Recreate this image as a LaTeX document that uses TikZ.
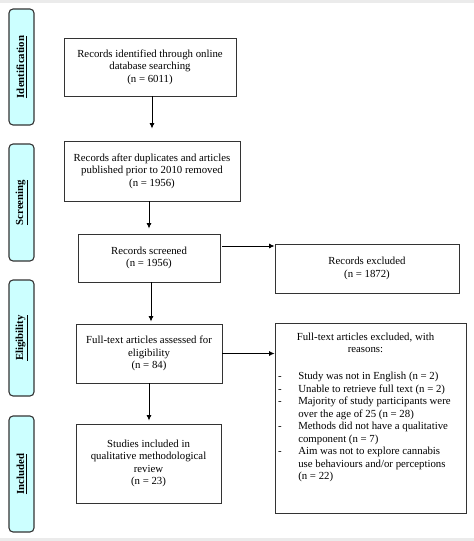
\documentclass[tikz,border=0pt]{standalone}
\usepackage{fontspec}
\setmainfont{Liberation Serif}
\usetikzlibrary{arrows.meta}
\definecolor{stagefill}{HTML}{CCFFFF}
\definecolor{edgegray}{HTML}{333333}
\definecolor{bandgray}{HTML}{EBEBEB}
\begin{document}
\begin{tikzpicture}[x=1pt,y=-1pt,
  stagebox/.style={draw=edgegray,line width=1.1pt,fill=stagefill,rounded corners=4pt,
    minimum width=25pt,inner sep=0pt},
  stagetext/.style={rotate=90,font=\fontsize{10.8}{13}\selectfont\bfseries},
  flowbox/.style={draw=edgegray,line width=0.9pt,align=center,inner sep=0pt,
    font=\fontsize{10.8}{12.5}\selectfont},
  arr/.style={-{Latex[length=5.5pt,width=5pt]},line width=0.8pt,black}]
\useasboundingbox (0,0) rectangle (474,541);
\fill[bandgray] (0,0) rectangle (474,3);
\fill[bandgray] (0,538) rectangle (474,541);
% stage labels
\node[stagebox,minimum height=116pt] (sid) at (21.5,67) {};
\node[stagetext] at (sid) {\underline{Identification}};
\node[stagebox,minimum height=117pt] (ssc) at (21.5,202.5) {};
\node[stagetext] at (ssc) {\underline{Screening}};
\node[stagebox,minimum height=116pt] (sel) at (21.5,338) {};
\node[stagetext] at (sel) {\underline{Eligibility}};
\node[stagebox,minimum height=116pt] (sin) at (21.5,474) {};
\node[stagetext] at (sin) {\underline{Included}};
% flow boxes
\node[flowbox,minimum width=172pt,minimum height=58pt] (b1) at (150,67)
  {Records identified through online\\database searching\\(n = 6011)};
\node[flowbox,minimum width=176pt,minimum height=60pt] (b2) at (152,171)
  {Records after duplicates and articles\\published prior to 2010 removed\\(n = 1956)};
\node[flowbox,minimum width=142pt,minimum height=48pt] (b3) at (149,258)
  {Records screened\\(n = 1956)};
\node[flowbox,minimum width=184pt,minimum height=49pt] (bx) at (367,268.5)
  {Records excluded\\(n = 1872)};
\node[flowbox,minimum width=146pt,minimum height=59pt] (b4) at (149,353.5)
  {Full-text articles assessed for\\eligibility\\(n = 84)};
\node[flowbox,minimum width=191pt,minimum height=190pt] (b5) at (370.5,418)
  {\begin{minipage}[c][182pt][t]{178pt}
   \vspace*{6pt}
   \centering Full-text articles excluded, with\\reasons:\par\vspace{12.5pt}
   \raggedright
   \begin{list}{-}{\leftmargin=21.8pt\labelwidth=4pt\labelsep=16.7pt\itemsep=0pt\parsep=0pt\topsep=0pt\rightmargin=-10pt}
   \item Study was not in English (n = 2)
   \item Unable to retrieve full text (n = 2)
   \item Majority of study participants were\\over the age of 25 (n = 28)
   \item Methods did not have a qualitative\\component (n = 7)
   \item Aim was not to explore cannabis\\use behaviours and/or perceptions\\(n = 22)
   \end{list}
   \end{minipage}};
\node[flowbox,minimum width=145pt,minimum height=79pt] (b6) at (148.5,463.5)
  {Studies included in\\qualitative methodological\\review\\(n = 23)};
% connectors
\draw[arr,shorten >=12pt] ([xshift=2pt]b1.south) -- ([xshift=2pt]b1.south |- b2.north);
\draw[arr,shorten >=5pt] ([xshift=-3pt]b2.south) -- ([xshift=-3pt]b2.south |- b3.north);
\draw[arr,shorten >=2pt] ([xshift=2pt]b3.south) -- ([xshift=2pt]b3.south |- b4.north);
\draw[arr,shorten >=3pt] (b4.south) -- (b4.south |- b6.north);
\draw[arr,shorten <=2pt] ([yshift=12pt]b3.east) -- ([yshift=12pt]b3.east -| bx.west);
\draw[arr] (b4.east) -- (b4.east -| b5.west);
\end{tikzpicture}
\end{document}
